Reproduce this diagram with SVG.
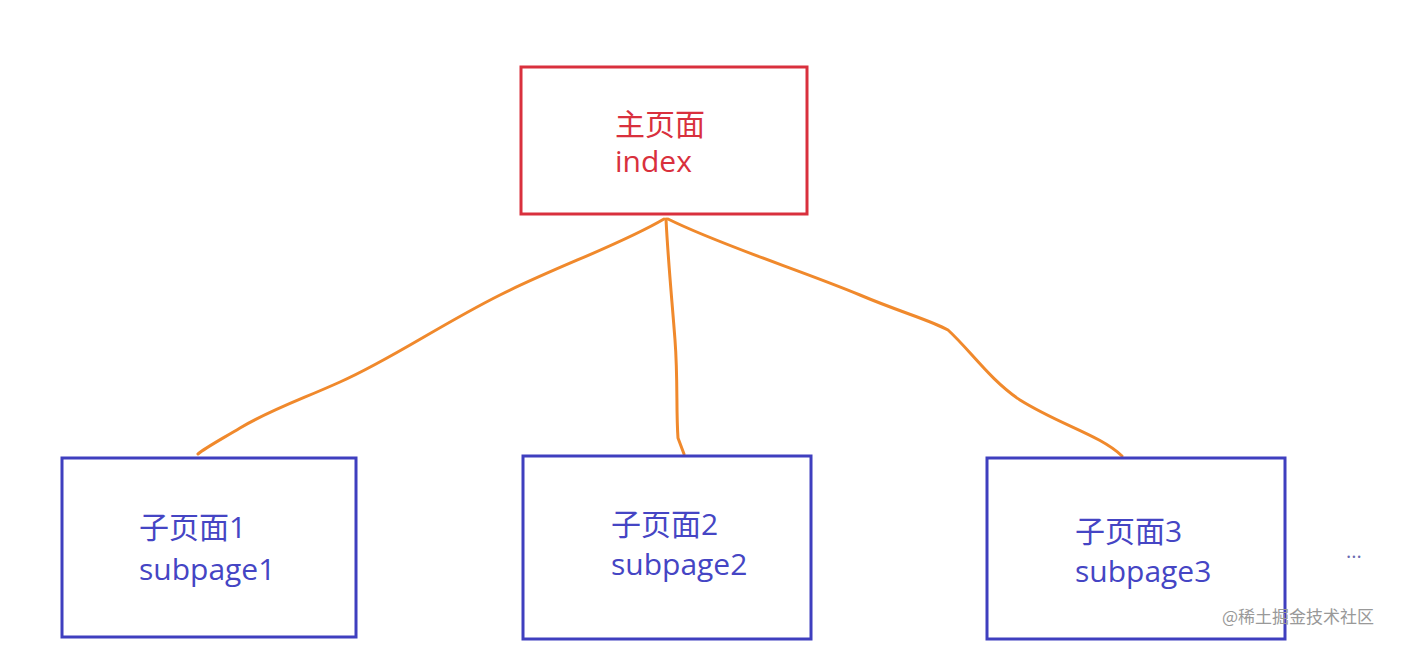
<svg xmlns="http://www.w3.org/2000/svg" width="1402" height="646" viewBox="0 0 1402 646">
<style>
.box{fill:none;stroke-width:3}
.red{stroke:#d9303d}
.blue{stroke:#3f3fbf}
.t{font-family:"Open Sans","Noto Sans CJK SC",sans-serif;font-size:30px}
.rt{fill:#d9303d}
.bt{fill:#4545c4}
.line{fill:none;stroke:#f0892c;stroke-width:3;stroke-linecap:round;stroke-linejoin:round}
</style>
<rect width="1402" height="646" fill="#fff"/>
<g id="connectors">
<path class="line" d="M664,219 C620,245 560,265 500,295 C440,325 390,360 340,382 C300,400 270,410 240,428 C220,440 205,448 198,454"/>
<path class="line" d="M666,219 C668,260 672,300 675,340 C678,380 676,410 678,438 L684,454"/>
<path class="line" d="M668,219 C720,245 800,270 860,295 C900,312 930,320 948,330 C970,350 990,380 1020,400 C1060,425 1100,435 1122,456"/>
</g>
<g id="index">
<rect class="box red" x="521" y="67" width="286" height="147"/>
<text class="t rt" x="615" y="135">主页面</text>
<text class="t rt" x="615" y="172">index</text>
</g>
<g id="subpage1">
<rect class="box blue" x="62" y="458" width="294" height="179"/>
<text class="t bt" x="139" y="538">子页面1</text>
<text class="t bt" x="139" y="580">subpage1</text>
</g>
<g id="subpage2">
<rect class="box blue" x="523" y="456" width="288" height="183"/>
<text class="t bt" x="611" y="535">子页面2</text>
<text class="t bt" x="611" y="575">subpage2</text>
</g>
<g id="subpage3">
<rect class="box blue" x="987" y="458" width="298" height="181"/>
<text class="t bt" x="1075" y="542">子页面3</text>
<text class="t bt" x="1075" y="582">subpage3</text>
</g>
<text x="1346" y="558" font-family="Open Sans,sans-serif" font-size="20" fill="#6a6ab0">...</text>
<text x="1222" y="623" font-family="Noto Sans CJK SC,sans-serif" font-size="17" fill="#999">@稀土掘金技术社区</text>
</svg>
